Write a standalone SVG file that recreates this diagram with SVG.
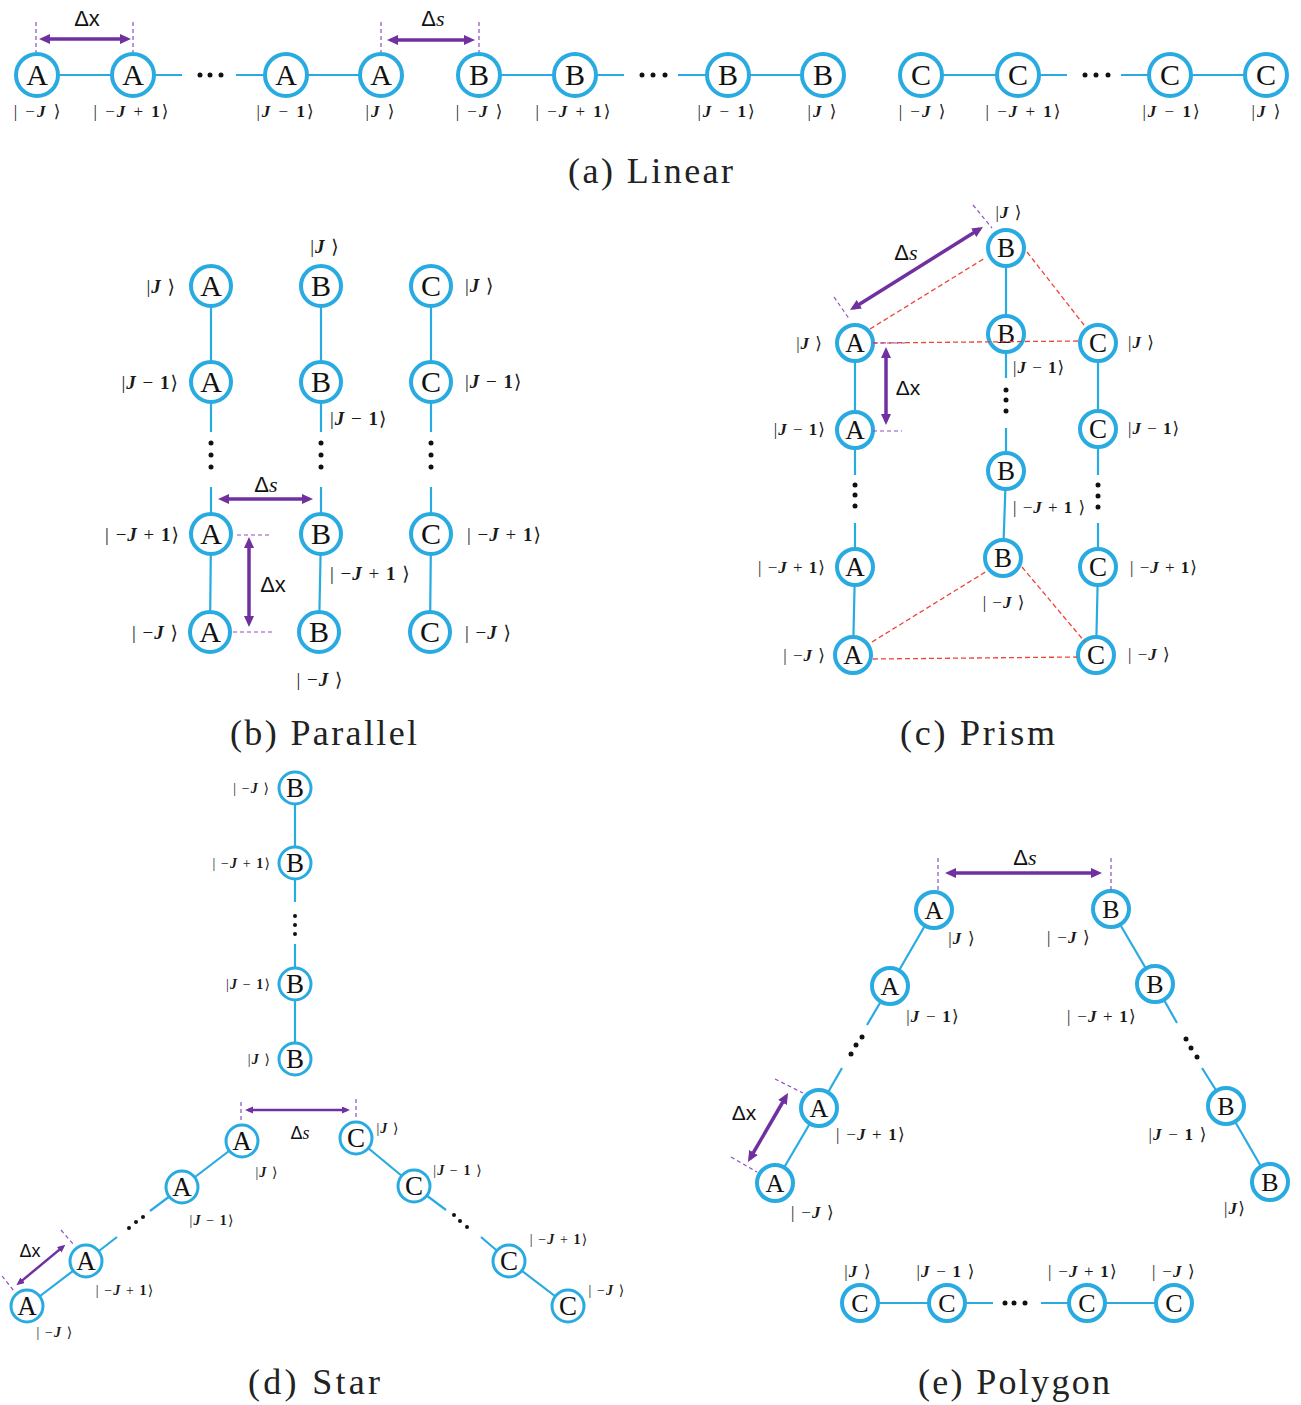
<svg xmlns="http://www.w3.org/2000/svg" width="1301" height="1405" viewBox="0 0 1301 1405">
<style>
.n{fill:#fff;stroke:#29ABE2;stroke-width:4}
.ns{fill:#fff;stroke:#29ABE2;stroke-width:3}
.e{stroke:#29ABE2;stroke-width:2.2;fill:none}
.rd{stroke:#EE4438;stroke-width:1.3;stroke-dasharray:5 3;fill:none}
.t{font-family:"Liberation Serif",serif;fill:#111;text-anchor:middle}
.k{font-family:"Liberation Serif","DejaVu Serif",serif;fill:#1a1a1a}
.ka{font-size:17px;letter-spacing:2px}
.kb{font-size:19px;letter-spacing:1px}
.kc{font-size:17px;letter-spacing:1px}
.kd{font-size:14px;letter-spacing:1.1px}
.ke{font-size:17px;letter-spacing:1.2px}
.j{font-weight:bold;font-style:italic}
.b{font-weight:bold}
.dot{fill:#111}
.ar{stroke:#7030A0;stroke-width:3.5;fill:none;marker-start:url(#ah);marker-end:url(#ah)}
.ars{stroke:#7030A0;stroke-width:2.5;fill:none;marker-start:url(#ahs);marker-end:url(#ahs)}
.tk{stroke:#8E4FC0;stroke-width:1.2;stroke-dasharray:4 3;fill:none}
.dl{font-family:"Liberation Sans",sans-serif;fill:#111;text-anchor:middle}
.it{font-family:"Liberation Serif",serif;font-style:italic}
.cap{font-family:"Liberation Serif",serif;font-size:36px;fill:#222}
</style>
<defs>
<marker id="ah" markerUnits="userSpaceOnUse" markerWidth="12" markerHeight="10" refX="7" refY="5" orient="auto-start-reverse"><path d="M0,0 L11,5 L0,10 z" fill="#7030A0"/></marker>
<marker id="ahs" markerUnits="userSpaceOnUse" markerWidth="9" markerHeight="8" refX="5" refY="3.5" orient="auto-start-reverse"><path d="M0,0 L8,3.5 L0,7 z" fill="#7030A0"/></marker>
</defs>

<g id="connectors">
<!-- (a) -->
<path class="e" d="M37,75H133M133,75H182M236,75H286M286,75H381"/>
<path class="e" d="M479,75H575M575,75H624M678,75H728M728,75H823"/>
<path class="e" d="M921,75H1018M1018,75H1067M1121,75H1170M1170,75H1266"/>
<!-- (b) -->
<path class="e" d="M211,286V382M211,382V432M211,487V534M211,534L210,632"/>
<path class="e" d="M321,286V382M321,382V432M321,487V534M321,534L319,632"/>
<path class="e" d="M431,286V382M431,382V432M431,487V534M431,534L430,632"/>
<!-- (c) -->
<path class="e" d="M855,343V430M855,430V475M855,523V567M855,567L853,655"/>
<path class="e" d="M1006,248V334M1006,334V378M1006,428V471M1006,471L1003,558"/>
<path class="e" d="M1098,343V429M1098,429V475M1098,523V567M1098,567L1096,655"/>
<!-- (d) -->
<path class="e" d="M295,788V863M295,863V902M295,944V984M295,984V1059"/>
<path class="e" d="M242,1141L182,1187M182,1187L150,1211M117,1237L86,1261M86,1261L27,1306"/>
<path class="e" d="M356,1138L414,1186M414,1186L446,1210M481,1237L509,1261M509,1261L568,1306"/>
<!-- (e) -->
<path class="e" d="M934,910L890,986M890,986L867,1025M842,1068L819,1108M819,1108L775,1183"/>
<path class="e" d="M1111,909L1155,984M1155,984L1177,1023M1202,1068L1226,1106M1226,1106L1270,1182"/>
<path class="e" d="M860,1303H947M947,1303H993M1041,1303H1087M1087,1303H1174"/>
</g>

<g id="ellipses">
<circle class="dot" cx="200" cy="75" r="2.5"/><circle class="dot" cx="210" cy="75" r="2.5"/><circle class="dot" cx="221" cy="75" r="2.5"/>
<circle class="dot" cx="642" cy="75" r="2.5"/><circle class="dot" cx="653" cy="75" r="2.5"/><circle class="dot" cx="665" cy="75" r="2.5"/>
<circle class="dot" cx="1085" cy="75" r="2.5"/><circle class="dot" cx="1096" cy="75" r="2.5"/><circle class="dot" cx="1108" cy="75" r="2.5"/>
<circle class="dot" cx="211" cy="443" r="2.5"/><circle class="dot" cx="211" cy="455" r="2.5"/><circle class="dot" cx="211" cy="467" r="2.5"/>
<circle class="dot" cx="321" cy="443" r="2.5"/><circle class="dot" cx="321" cy="455" r="2.5"/><circle class="dot" cx="321" cy="467" r="2.5"/>
<circle class="dot" cx="431" cy="443" r="2.5"/><circle class="dot" cx="431" cy="455" r="2.5"/><circle class="dot" cx="431" cy="467" r="2.5"/>
<circle class="dot" cx="855" cy="485" r="2.5"/><circle class="dot" cx="855" cy="495" r="2.5"/><circle class="dot" cx="855" cy="506" r="2.5"/>
<circle class="dot" cx="1006" cy="390" r="2.5"/><circle class="dot" cx="1006" cy="400" r="2.5"/><circle class="dot" cx="1006" cy="411" r="2.5"/>
<circle class="dot" cx="1098" cy="485" r="2.5"/><circle class="dot" cx="1098" cy="496" r="2.5"/><circle class="dot" cx="1098" cy="507" r="2.5"/>
<circle class="dot" cx="295" cy="916" r="2"/><circle class="dot" cx="295" cy="925" r="2"/><circle class="dot" cx="295" cy="934" r="2"/>
<circle class="dot" cx="143" cy="1217" r="2"/><circle class="dot" cx="136" cy="1222" r="2"/><circle class="dot" cx="129" cy="1228" r="2"/>
<circle class="dot" cx="454" cy="1215" r="2"/><circle class="dot" cx="460" cy="1221" r="2"/><circle class="dot" cx="467" cy="1227" r="2"/>
<circle class="dot" cx="862" cy="1037" r="2.5"/><circle class="dot" cx="856" cy="1045" r="2.5"/><circle class="dot" cx="851" cy="1054" r="2.5"/>
<circle class="dot" cx="1186" cy="1039" r="2.5"/><circle class="dot" cx="1191" cy="1048" r="2.5"/><circle class="dot" cx="1197" cy="1057" r="2.5"/>
<circle class="dot" cx="1005" cy="1303" r="2.5"/><circle class="dot" cx="1014" cy="1303" r="2.5"/><circle class="dot" cx="1025" cy="1303" r="2.5"/>
</g>

<!-- (a) Linear nodes -->
<g id="a-A1"><circle class="n" cx="37" cy="75" r="21"/><text class="t" x="37" y="85" font-size="30">A</text><text class="k ka" x="38" y="117" text-anchor="middle">| −<tspan class="j">J</tspan> ⟩</text></g>
<g id="a-A2"><circle class="n" cx="133" cy="75" r="21"/><text class="t" x="133" y="85" font-size="30">A</text><text class="k ka" x="132" y="117" text-anchor="middle">| −<tspan class="j">J</tspan> + <tspan class="b">1</tspan>⟩</text></g>
<g id="a-A3"><circle class="n" cx="286" cy="75" r="21"/><text class="t" x="286" y="85" font-size="30">A</text><text class="k ka" x="286" y="117" text-anchor="middle">|<tspan class="j">J</tspan> − <tspan class="b">1</tspan>⟩</text></g>
<g id="a-A4"><circle class="n" cx="381" cy="75" r="21"/><text class="t" x="381" y="85" font-size="30">A</text><text class="k ka" x="381" y="117" text-anchor="middle">|<tspan class="j">J</tspan> ⟩</text></g>
<g id="a-B1"><circle class="n" cx="479" cy="75" r="21"/><text class="t" x="479" y="85" font-size="30">B</text><text class="k ka" x="480" y="117" text-anchor="middle">| −<tspan class="j">J</tspan> ⟩</text></g>
<g id="a-B2"><circle class="n" cx="575" cy="75" r="21"/><text class="t" x="575" y="85" font-size="30">B</text><text class="k ka" x="574" y="117" text-anchor="middle">| −<tspan class="j">J</tspan> + <tspan class="b">1</tspan>⟩</text></g>
<g id="a-B3"><circle class="n" cx="728" cy="75" r="21"/><text class="t" x="728" y="85" font-size="30">B</text><text class="k ka" x="727" y="117" text-anchor="middle">|<tspan class="j">J</tspan> − <tspan class="b">1</tspan>⟩</text></g>
<g id="a-B4"><circle class="n" cx="823" cy="75" r="21"/><text class="t" x="823" y="85" font-size="30">B</text><text class="k ka" x="823" y="117" text-anchor="middle">|<tspan class="j">J</tspan> ⟩</text></g>
<g id="a-C1"><circle class="n" cx="921" cy="75" r="21"/><text class="t" x="921" y="85" font-size="30">C</text><text class="k ka" x="923" y="117" text-anchor="middle">| −<tspan class="j">J</tspan> ⟩</text></g>
<g id="a-C2"><circle class="n" cx="1018" cy="75" r="21"/><text class="t" x="1018" y="85" font-size="30">C</text><text class="k ka" x="1024" y="117" text-anchor="middle">| −<tspan class="j">J</tspan> + <tspan class="b">1</tspan>⟩</text></g>
<g id="a-C3"><circle class="n" cx="1170" cy="75" r="21"/><text class="t" x="1170" y="85" font-size="30">C</text><text class="k ka" x="1172" y="117" text-anchor="middle">|<tspan class="j">J</tspan> − <tspan class="b">1</tspan>⟩</text></g>
<g id="a-C4"><circle class="n" cx="1266" cy="75" r="21"/><text class="t" x="1266" y="85" font-size="30">C</text><text class="k ka" x="1267" y="117" text-anchor="middle">|<tspan class="j">J</tspan> ⟩</text></g>

<!-- (b) Parallel nodes -->
<g id="b-A1"><circle class="n" cx="211" cy="286" r="20"/><text class="t" x="211" y="296" font-size="30">A</text><text class="k kb" x="176" y="293" text-anchor="end">|<tspan class="j">J</tspan> ⟩</text></g>
<g id="b-A2"><circle class="n" cx="211" cy="382" r="20"/><text class="t" x="211" y="392" font-size="30">A</text><text class="k kb" x="179" y="389" text-anchor="end">|<tspan class="j">J</tspan> − <tspan class="b">1</tspan>⟩</text></g>
<g id="b-A3"><circle class="n" cx="211" cy="534" r="20"/><text class="t" x="211" y="544" font-size="30">A</text><text class="k kb" x="180" y="541" text-anchor="end">| −<tspan class="j">J</tspan> + <tspan class="b">1</tspan>⟩</text></g>
<g id="b-A4"><circle class="n" cx="210" cy="632" r="20"/><text class="t" x="210" y="642" font-size="30">A</text><text class="k kb" x="179" y="639" text-anchor="end">| −<tspan class="j">J</tspan> ⟩</text></g>
<g id="b-B1"><circle class="n" cx="321" cy="286" r="20"/><text class="t" x="321" y="296" font-size="30">B</text><text class="k kb" x="325" y="253" text-anchor="middle">|<tspan class="j">J</tspan> ⟩</text></g>
<g id="b-B2"><circle class="n" cx="321" cy="382" r="20"/><text class="t" x="321" y="392" font-size="30">B</text><text class="k kb" x="330" y="425">|<tspan class="j">J</tspan> − <tspan class="b">1</tspan>⟩</text></g>
<g id="b-B3"><circle class="n" cx="321" cy="534" r="20"/><text class="t" x="321" y="544" font-size="30">B</text><text class="k kb" x="330" y="580">| −<tspan class="j">J</tspan> + <tspan class="b">1</tspan> ⟩</text></g>
<g id="b-B4"><circle class="n" cx="319" cy="632" r="20"/><text class="t" x="319" y="642" font-size="30">B</text><text class="k kb" x="320" y="686" text-anchor="middle">| −<tspan class="j">J</tspan> ⟩</text></g>
<g id="b-C1"><circle class="n" cx="431" cy="286" r="20"/><text class="t" x="431" y="296" font-size="30">C</text><text class="k kb" x="465" y="292">|<tspan class="j">J</tspan> ⟩</text></g>
<g id="b-C2"><circle class="n" cx="431" cy="382" r="20"/><text class="t" x="431" y="392" font-size="30">C</text><text class="k kb" x="465" y="388">|<tspan class="j">J</tspan> − <tspan class="b">1</tspan>⟩</text></g>
<g id="b-C3"><circle class="n" cx="431" cy="534" r="20"/><text class="t" x="431" y="544" font-size="30">C</text><text class="k kb" x="467" y="541">| −<tspan class="j">J</tspan> + <tspan class="b">1</tspan>⟩</text></g>
<g id="b-C4"><circle class="n" cx="430" cy="632" r="20"/><text class="t" x="430" y="642" font-size="30">C</text><text class="k kb" x="465" y="639">| −<tspan class="j">J</tspan> ⟩</text></g>

<!-- (c) Prism nodes -->
<g id="c-A1"><circle class="n" cx="855" cy="343" r="18"/><text class="t" x="855" y="352" font-size="27">A</text><text class="k kc" x="823" y="349" text-anchor="end">|<tspan class="j">J</tspan> ⟩</text></g>
<g id="c-A2"><circle class="n" cx="855" cy="430" r="18"/><text class="t" x="855" y="439" font-size="27">A</text><text class="k kc" x="826" y="435" text-anchor="end">|<tspan class="j">J</tspan> − <tspan class="b">1</tspan>⟩</text></g>
<g id="c-A3"><circle class="n" cx="855" cy="567" r="18"/><text class="t" x="855" y="576" font-size="27">A</text><text class="k kc" x="826" y="573" text-anchor="end">| −<tspan class="j">J</tspan> + <tspan class="b">1</tspan>⟩</text></g>
<g id="c-A4"><circle class="n" cx="853" cy="655" r="18"/><text class="t" x="853" y="664" font-size="27">A</text><text class="k kc" x="826" y="661" text-anchor="end">| −<tspan class="j">J</tspan> ⟩</text></g>
<g id="c-B1"><circle class="n" cx="1006" cy="248" r="18"/><text class="t" x="1006" y="257" font-size="27">B</text><text class="k kc" x="1009" y="218" text-anchor="middle">|<tspan class="j">J</tspan> ⟩</text></g>
<g id="c-B2"><circle class="n" cx="1006" cy="334" r="18"/><text class="t" x="1006" y="343" font-size="27">B</text><text class="k kc" x="1013" y="373">|<tspan class="j">J</tspan> − <tspan class="b">1</tspan>⟩</text></g>
<g id="c-B3"><circle class="n" cx="1006" cy="471" r="18"/><text class="t" x="1006" y="480" font-size="27">B</text><text class="k kc" x="1013" y="513">| −<tspan class="j">J</tspan> + <tspan class="b">1</tspan> ⟩</text></g>
<g id="c-B4"><circle class="n" cx="1003" cy="558" r="18"/><text class="t" x="1003" y="567" font-size="27">B</text><text class="k kc" x="1004" y="608" text-anchor="middle">| −<tspan class="j">J</tspan> ⟩</text></g>
<g id="c-C1"><circle class="n" cx="1098" cy="343" r="18"/><text class="t" x="1098" y="352" font-size="27">C</text><text class="k kc" x="1128" y="348">|<tspan class="j">J</tspan> ⟩</text></g>
<g id="c-C2"><circle class="n" cx="1098" cy="429" r="18"/><text class="t" x="1098" y="438" font-size="27">C</text><text class="k kc" x="1128" y="434">|<tspan class="j">J</tspan> − <tspan class="b">1</tspan>⟩</text></g>
<g id="c-C3"><circle class="n" cx="1098" cy="567" r="18"/><text class="t" x="1098" y="576" font-size="27">C</text><text class="k kc" x="1130" y="573">| −<tspan class="j">J</tspan> + <tspan class="b">1</tspan>⟩</text></g>
<g id="c-C4"><circle class="n" cx="1096" cy="655" r="18"/><text class="t" x="1096" y="664" font-size="27">C</text><text class="k kc" x="1128" y="660">| −<tspan class="j">J</tspan> ⟩</text></g>

<g id="prism-links">
<path class="rd" d="M870,329L985,258M1027,252L1084,325M873,343L1078,341M872,642L987,571M1022,567L1085,642M873,659L1077,657"/>
</g>

<!-- (d) Star nodes -->
<g id="d-B1"><circle class="ns" cx="295" cy="788" r="16"/><text class="t" x="295" y="797" font-size="27">B</text><text class="k kd" x="270" y="793" text-anchor="end">| −<tspan class="j">J</tspan> ⟩</text></g>
<g id="d-B2"><circle class="ns" cx="295" cy="863" r="16"/><text class="t" x="295" y="872" font-size="27">B</text><text class="k kd" x="271" y="868" text-anchor="end">| −<tspan class="j">J</tspan> + <tspan class="b">1</tspan>⟩</text></g>
<g id="d-B3"><circle class="ns" cx="295" cy="984" r="16"/><text class="t" x="295" y="993" font-size="27">B</text><text class="k kd" x="271" y="989" text-anchor="end">|<tspan class="j">J</tspan> − <tspan class="b">1</tspan>⟩</text></g>
<g id="d-B4"><circle class="ns" cx="295" cy="1059" r="16"/><text class="t" x="295" y="1068" font-size="27">B</text><text class="k kd" x="271" y="1064" text-anchor="end">|<tspan class="j">J</tspan> ⟩</text></g>
<g id="d-A1"><circle class="ns" cx="242" cy="1141" r="16"/><text class="t" x="242" y="1150" font-size="27">A</text><text class="k kd" x="267" y="1177" text-anchor="middle">|<tspan class="j">J</tspan> ⟩</text></g>
<g id="d-A2"><circle class="ns" cx="182" cy="1187" r="16"/><text class="t" x="182" y="1196" font-size="27">A</text><text class="k kd" x="212" y="1225" text-anchor="middle">|<tspan class="j">J</tspan> − <tspan class="b">1</tspan>⟩</text></g>
<g id="d-A3"><circle class="ns" cx="86" cy="1261" r="16"/><text class="t" x="86" y="1270" font-size="27">A</text><text class="k kd" x="125" y="1295" text-anchor="middle">| −<tspan class="j">J</tspan> + <tspan class="b">1</tspan>⟩</text></g>
<g id="d-A4"><circle class="ns" cx="27" cy="1306" r="16"/><text class="t" x="27" y="1315" font-size="27">A</text><text class="k kd" x="55" y="1337" text-anchor="middle">| −<tspan class="j">J</tspan> ⟩</text></g>
<g id="d-C1"><circle class="ns" cx="356" cy="1138" r="16"/><text class="t" x="356" y="1147" font-size="27">C</text><text class="k kd" x="388" y="1133" text-anchor="middle">|<tspan class="j">J</tspan> ⟩</text></g>
<g id="d-C2"><circle class="ns" cx="414" cy="1186" r="16"/><text class="t" x="414" y="1195" font-size="27">C</text><text class="k kd" x="458" y="1175" text-anchor="middle">|<tspan class="j">J</tspan> − <tspan class="b">1</tspan> ⟩</text></g>
<g id="d-C3"><circle class="ns" cx="509" cy="1261" r="16"/><text class="t" x="509" y="1270" font-size="27">C</text><text class="k kd" x="559" y="1244" text-anchor="middle">| −<tspan class="j">J</tspan> + <tspan class="b">1</tspan>⟩</text></g>
<g id="d-C4"><circle class="ns" cx="568" cy="1306" r="16"/><text class="t" x="568" y="1315" font-size="27">C</text><text class="k kd" x="607" y="1295" text-anchor="middle">| −<tspan class="j">J</tspan> ⟩</text></g>

<!-- (e) Polygon nodes -->
<g id="e-A1"><circle class="n" cx="934" cy="910" r="18"/><text class="t" x="934" y="919" font-size="26">A</text><text class="k ke" x="962" y="944" text-anchor="middle">|<tspan class="j">J</tspan> ⟩</text></g>
<g id="e-A2"><circle class="n" cx="890" cy="986" r="18"/><text class="t" x="890" y="995" font-size="26">A</text><text class="k ke" x="933" y="1022" text-anchor="middle">|<tspan class="j">J</tspan> − <tspan class="b">1</tspan>⟩</text></g>
<g id="e-A3"><circle class="n" cx="819" cy="1108" r="18"/><text class="t" x="819" y="1117" font-size="26">A</text><text class="k ke" x="871" y="1140" text-anchor="middle">| −<tspan class="j">J</tspan> + <tspan class="b">1</tspan>⟩</text></g>
<g id="e-A4"><circle class="n" cx="775" cy="1183" r="18"/><text class="t" x="775" y="1192" font-size="26">A</text><text class="k ke" x="813" y="1218" text-anchor="middle">| −<tspan class="j">J</tspan> ⟩</text></g>
<g id="e-B1"><circle class="n" cx="1111" cy="909" r="18"/><text class="t" x="1111" y="918" font-size="26">B</text><text class="k ke" x="1069" y="943" text-anchor="middle">| −<tspan class="j">J</tspan> ⟩</text></g>
<g id="e-B2"><circle class="n" cx="1155" cy="984" r="18"/><text class="t" x="1155" y="993" font-size="26">B</text><text class="k ke" x="1102" y="1022" text-anchor="middle">| −<tspan class="j">J</tspan> + <tspan class="b">1</tspan>⟩</text></g>
<g id="e-B3"><circle class="n" cx="1226" cy="1106" r="18"/><text class="t" x="1226" y="1115" font-size="26">B</text><text class="k ke" x="1178" y="1140" text-anchor="middle">|<tspan class="j">J</tspan> − <tspan class="b">1</tspan> ⟩</text></g>
<g id="e-B4"><circle class="n" cx="1270" cy="1182" r="18"/><text class="t" x="1270" y="1191" font-size="26">B</text><text class="k ke" x="1235" y="1214" text-anchor="middle">|<tspan class="j">J</tspan>⟩</text></g>
<g id="e-C1"><circle class="n" cx="860" cy="1303" r="18"/><text class="t" x="860" y="1312" font-size="26">C</text><text class="k ke" x="858" y="1277" text-anchor="middle">|<tspan class="j">J</tspan> ⟩</text></g>
<g id="e-C2"><circle class="n" cx="947" cy="1303" r="18"/><text class="t" x="947" y="1312" font-size="26">C</text><text class="k ke" x="946" y="1277" text-anchor="middle">|<tspan class="j">J</tspan> − <tspan class="b">1</tspan> ⟩</text></g>
<g id="e-C3"><circle class="n" cx="1087" cy="1303" r="18"/><text class="t" x="1087" y="1312" font-size="26">C</text><text class="k ke" x="1083" y="1277" text-anchor="middle">| −<tspan class="j">J</tspan> + <tspan class="b">1</tspan>⟩</text></g>
<g id="e-C4"><circle class="n" cx="1174" cy="1303" r="18"/><text class="t" x="1174" y="1312" font-size="26">C</text><text class="k ke" x="1174" y="1277" text-anchor="middle">| −<tspan class="j">J</tspan> ⟩</text></g>

<g id="dimensions">
<!-- (a) -->
<path class="tk" d="M36,22V52M133,22V52M381,22V52M479,22V52"/>
<line class="ar" x1="43" y1="39" x2="127" y2="39"/>
<line class="ar" x1="391" y1="40" x2="471" y2="40"/>
<text class="dl" x="87" y="26" font-size="22">Δx</text>
<text class="dl" x="433" y="26" font-size="22">Δ<tspan class="it">s</tspan></text>
<!-- (b) -->
<path class="tk" d="M237,535H272M233,632H275"/>
<line class="ar" x1="222" y1="499" x2="309" y2="499"/>
<line class="ar" x1="249" y1="541" x2="249" y2="623"/>
<text class="dl" x="266" y="492" font-size="22">Δ<tspan class="it">s</tspan></text>
<text class="dl" x="273" y="592" font-size="22">Δx</text>
<!-- (c) -->
<path class="tk" d="M873,343H905M873,431H902M834,297L850,320M973,205L992,228"/>
<line class="ar" x1="886" y1="351" x2="886" y2="421"/>
<line class="ar" x1="853.4" y1="307.9" x2="979.6" y2="229.1"/>
<text class="dl" x="908" y="395" font-size="21">Δx</text>
<text class="dl" x="906" y="260" font-size="22">Δ<tspan class="it">s</tspan></text>
<!-- (d) -->
<path class="tk" d="M241,1102V1123M356,1099V1119M2,1276L14,1291M61,1230L74,1245"/>
<line class="ars" x1="248" y1="1110" x2="347" y2="1110"/>
<line class="ars" x1="18.7" y1="1283.4" x2="63.1" y2="1246.6"/>
<text class="dl" x="300" y="1139" font-size="18">Δ<tspan class="it">s</tspan></text>
<text class="dl" x="30" y="1257" font-size="18">Δx</text>
<!-- (e) -->
<path class="tk" d="M938,858V890M1111,858V890M775,1079L803,1093M731,1157L757,1172"/>
<line class="ar" x1="949" y1="873" x2="1098" y2="873"/>
<line class="ar" x1="750" y1="1158.5" x2="786" y2="1096.5"/>
<text class="dl" x="1025" y="865" font-size="22">Δ<tspan class="it">s</tspan></text>
<text class="dl" x="744" y="1120" font-size="21">Δx</text>
</g>

<g id="captions">
<text class="cap" x="568" y="183" textLength="165" lengthAdjust="spacing">(a) Linear</text>
<text class="cap" x="230" y="745" textLength="187" lengthAdjust="spacing">(b) Parallel</text>
<text class="cap" x="900" y="745" textLength="155" lengthAdjust="spacing">(c) Prism</text>
<text class="cap" x="248" y="1394" textLength="132" lengthAdjust="spacing">(d) Star</text>
<text class="cap" x="918" y="1394" textLength="192" lengthAdjust="spacing">(e) Polygon</text>
</g>
</svg>
